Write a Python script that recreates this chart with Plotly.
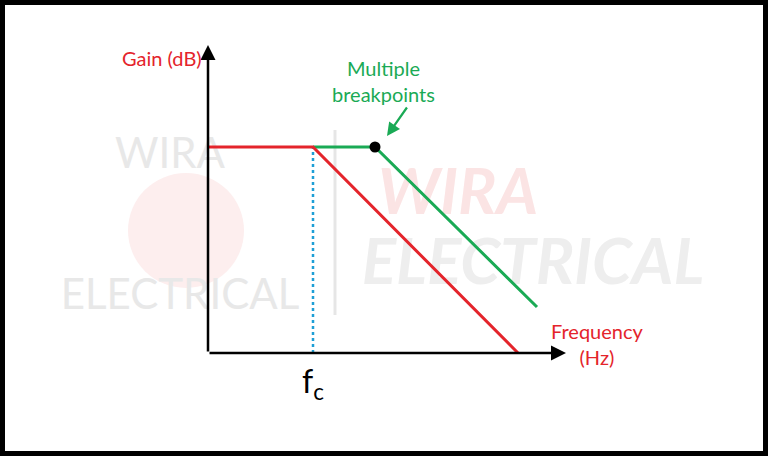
import plotly.graph_objects as go

# schematic units: origin at the axes corner, fc = 10.5
freq_red = [0, 10.5, 31.0]
gain_red = [20.6, 20.6, 0]
freq_green = [10.5, 16.7, 32.9]
gain_green = [20.6, 20.6, 4.6]
fc = 10.5
flat_gain = 20.6
breakpoint_freq = [16.7]
breakpoint_gain = [20.6]
x_axis_end = 35.8
y_axis_end = 30.8

RED = "#e4242b"
GREEN = "#1aaa55"
CYAN = "#1e9fd6"
FONT = "Lato"

fig = go.Figure()

# watermark (drawn first so the lines sit on top)
fig.add_shape(type="circle", x0=-8.0, y0=6.5, x1=3.6, y1=18.0,
              fillcolor="#fdeeee", line_width=0, layer="below")
fig.add_shape(type="line", x0=12.7, y0=3.8, x1=12.7, y1=22.3,
              line=dict(color="#e6e6e6", width=3), layer="below")
fig.add_trace(go.Scatter(x=[-3.8, -2.8], y=[19.6, 5.5], mode="text",
                         text=["WIRA", "ELECTRICAL"], hoverinfo="skip",
                         textfont=dict(family=FONT, size=42, color="#e8e8e8")))
fig.add_trace(go.Scatter(x=[25.0], y=[15.5], mode="text", text=["<b><i>WIRA</i></b>"],
                         hoverinfo="skip",
                         textfont=dict(family=FONT, size=64, color="#fbe4e4")))
fig.add_trace(go.Scatter(x=[32.5], y=[8.5], mode="text", text=["<b><i>ELECTRICAL</i></b>"],
                         hoverinfo="skip",
                         textfont=dict(family=FONT, size=64, color="#eeeeee")))

fig.add_trace(go.Scatter(x=[fc, fc], y=[0, flat_gain], mode="lines",
                         line=dict(color=CYAN, width=2.5, dash="dot"),
                         hoverinfo="skip"))
fig.add_trace(go.Scatter(x=freq_green, y=gain_green, mode="lines",
                         line=dict(color=GREEN, width=3), name="Multiple breakpoints"))
fig.add_trace(go.Scatter(x=freq_red, y=gain_red, mode="lines",
                         line=dict(color=RED, width=3), name="Single breakpoint"))
fig.add_trace(go.Scatter(x=breakpoint_freq, y=breakpoint_gain, mode="markers",
                         marker=dict(color="black", size=11)))

# axes with arrows
fig.add_annotation(x=x_axis_end, y=0, ax=0, ay=0, axref="x", ayref="y",
                   showarrow=True, arrowhead=2, arrowsize=1.2, arrowwidth=2.5,
                   arrowcolor="black", text="")
fig.add_annotation(x=0, y=y_axis_end, ax=0, ay=0, axref="x", ayref="y",
                   showarrow=True, arrowhead=2, arrowsize=1.2, arrowwidth=2.5,
                   arrowcolor="black", text="")

fig.add_annotation(x=-0.4, y=29.5, text="Gain (dB)", showarrow=False, xanchor="right",
                   font=dict(family=FONT, size=20, color=RED))
fig.add_annotation(x=38.9, y=0.9, text="Frequency<br>(Hz)", showarrow=False,
                   align="center", font=dict(family=FONT, size=20, color=RED))
fig.add_annotation(x=fc, y=-3.0, text="f<sub>c</sub>", showarrow=False,
                   font=dict(family=FONT, size=32, color="black"))
fig.add_annotation(x=17.5, y=27.2, text="Multiple<br>breakpoints", showarrow=False,
                   font=dict(family=FONT, size=20, color=GREEN))
fig.add_annotation(x=17.9, y=21.7, ax=20.0, ay=24.7, axref="x", ayref="y",
                   showarrow=True, arrowhead=2, arrowsize=1.2, arrowwidth=2.2,
                   arrowcolor=GREEN, text="")

# frame
fig.add_shape(type="rect", xref="paper", yref="paper", x0=0, y0=0, x1=1, y1=1,
              line=dict(color="black", width=10))

fig.update_xaxes(range=[-20.8, 56.0], visible=False)
fig.update_yaxes(range=[-10.3, 35.3], visible=False)
fig.update_layout(width=768, height=456, margin=dict(l=0, r=0, t=0, b=0),
                  plot_bgcolor="white", paper_bgcolor="white", showlegend=False)

fig.write_html("out.html", config={"displayModeBar": False},
               post_script="document.body.style.margin='0';")
